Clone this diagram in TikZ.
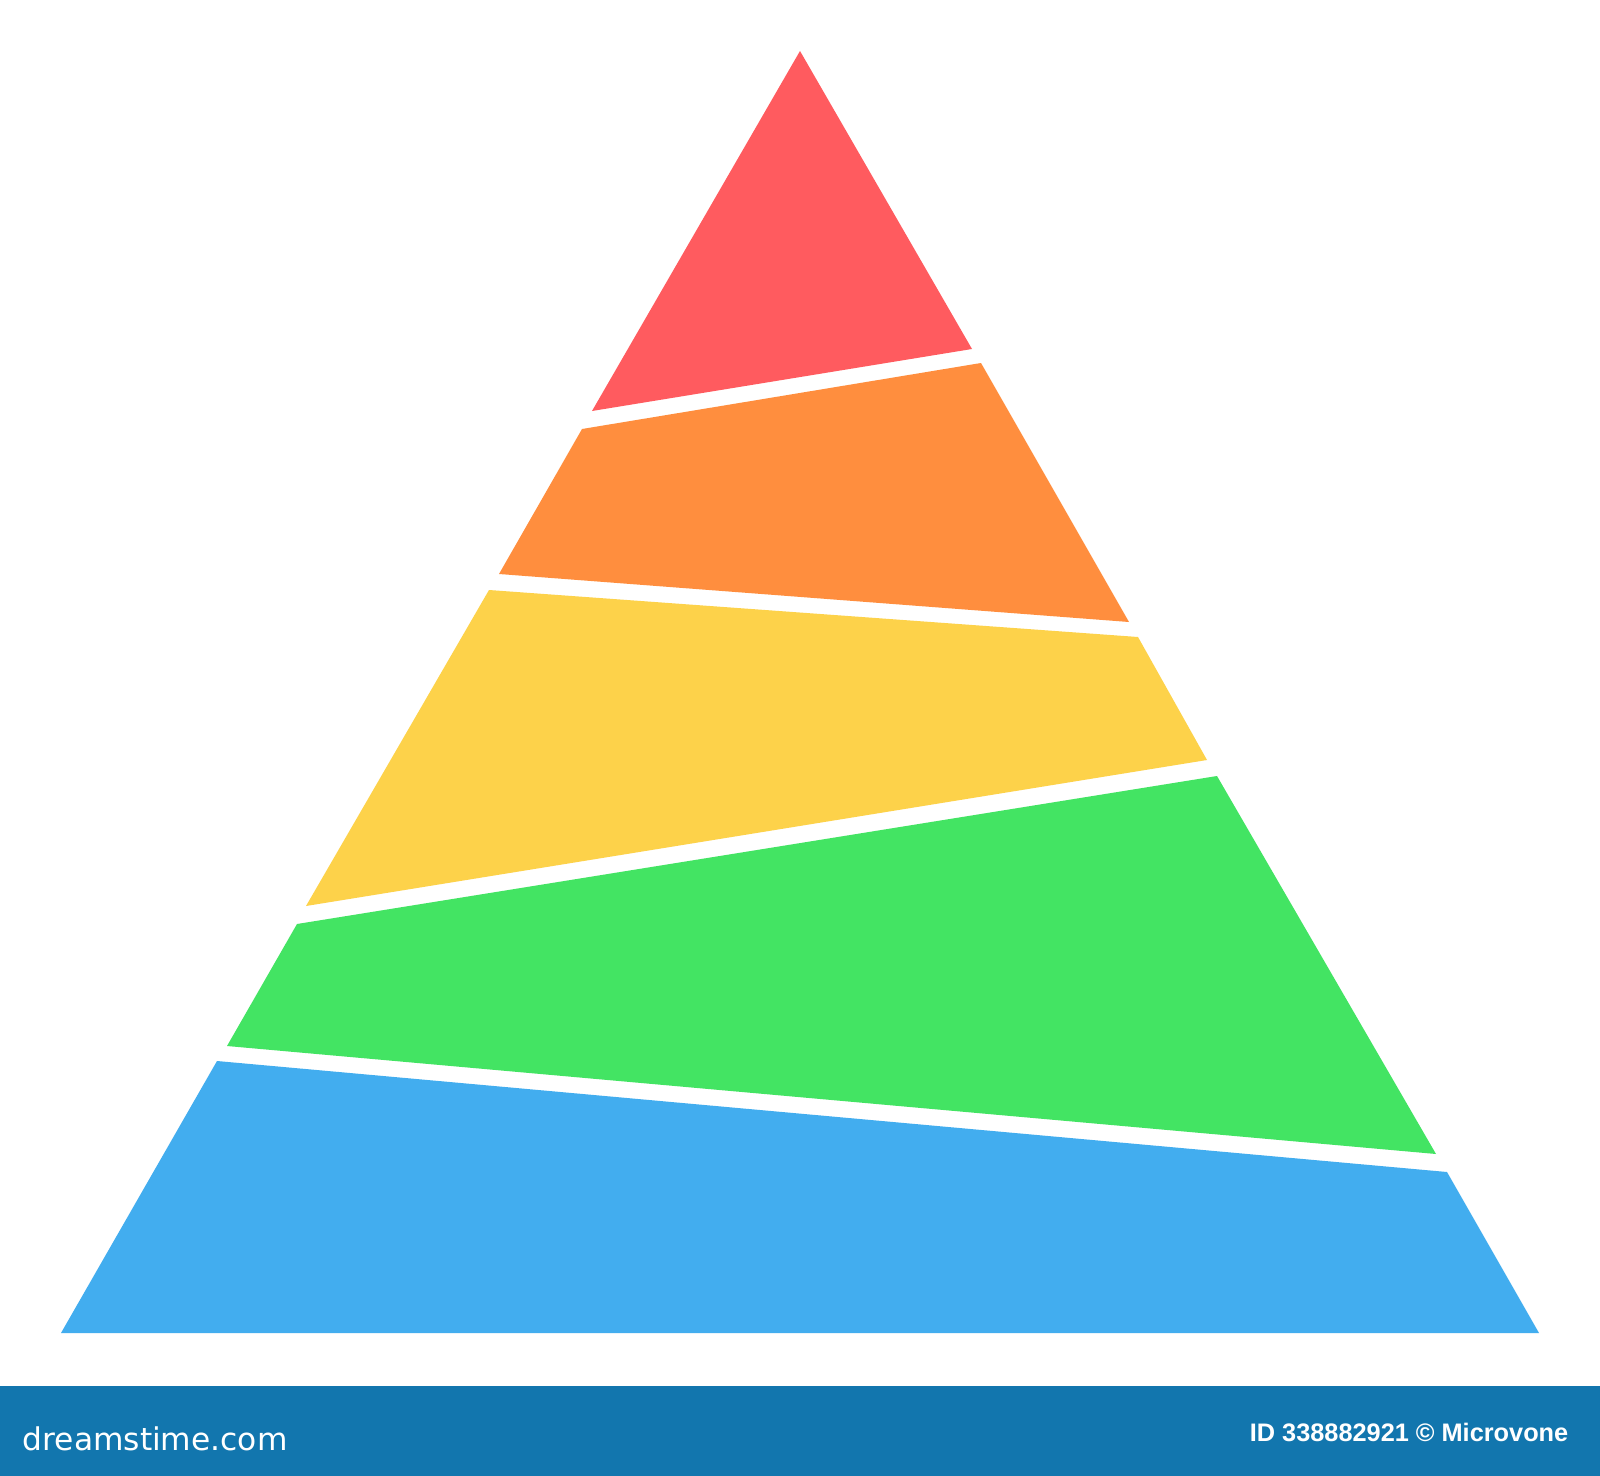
\documentclass[tikz,border=0pt]{standalone}
\usepackage{fontspec}
\setmainfont{Liberation Sans}
\newfontfamily\logofont{DejaVu Sans}
\definecolor{redband}{HTML}{FF5B5F}
\definecolor{orangeband}{HTML}{FF8E3E}
\definecolor{yellowband}{HTML}{FDD24A}
\definecolor{greenband}{HTML}{43E463}
\definecolor{blueband}{HTML}{42ADEF}
\definecolor{barblue}{HTML}{1276AE}
\tikzset{
  band/.style={fill=#1, draw=none},
  bartext/.style={text=white, inner sep=0pt}
}
\begin{document}
\begin{tikzpicture}[x=0.01cm, y=-0.01cm]
\useasboundingbox (0,0) rectangle (1600,1476);
\fill[white] (0,0) rectangle (1600,1476);

% pyramid bands, top to bottom
\path[band=redband] (800,51) -- (972,349) -- (592,411) -- cycle;
\path[band=orangeband] (582,429) -- (981,363) -- (1129,622) -- (499,574) -- cycle;
\path[band=yellowband] (489,590) -- (1138,637) -- (1207,760) -- (306,906) -- cycle;
\path[band=greenband] (297,924) -- (1217,776) -- (1436,1154) -- (227,1046) -- cycle;
\path[band=blueband] (217,1061) -- (1447,1172) -- (1539,1333) -- (61,1333) -- cycle;

% bottom bar
\fill[barblue] (0,1386) rectangle (1600,1476);
\node[bartext, anchor=west] (logo) at (22,1439) {\logofont\fontsize{8.9}{10}\selectfont dreamstime.com};
\node[bartext, anchor=east] (credit) at (1569,1432) {\bfseries\fontsize{7.2}{8}\selectfont ID 338882921 © Microvone};
\end{tikzpicture}
\end{document}
